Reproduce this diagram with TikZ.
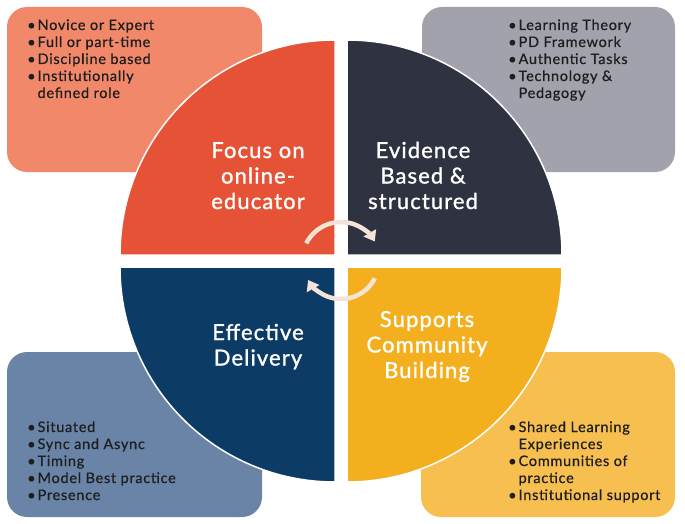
\documentclass[tikz,border=0pt]{standalone}
\usepackage{fontspec}
\setmainfont{Lato}
\newfontfamily\titlefont{Lato}[FakeBold=1.2,LetterSpace=5]
\newfontfamily\listfont{Lato}[FakeBold=0.6,LetterSpace=5]
\usetikzlibrary{arrows.meta}
\definecolor{boxTL}{HTML}{F2886A}
\definecolor{qTL}{HTML}{E65236}
\definecolor{boxTR}{HTML}{A1A2AB}
\definecolor{qTR}{HTML}{2F3240}
\definecolor{boxBL}{HTML}{6A84A8}
\definecolor{qBL}{HTML}{0C3C66}
\definecolor{boxBR}{HTML}{F7BF50}
\definecolor{qBR}{HTML}{F4AF1E}
\definecolor{arrowc}{HTML}{F6E3D8}
\definecolor{txt}{HTML}{1E1E1E}
\tikzset{
  infobox/.style={rounded corners=20pt},
  quarter/.style={draw=white,line width=1.5pt},
  title/.style={anchor=base,text=white,inner sep=0pt,font=\titlefont\fontsize{22}{25.5}\selectfont},
  bullets/.style={anchor=base west,text=txt,inner sep=0pt,font=\listfont\fontsize{14.5}{17}\selectfont},
  cyc/.style={draw=arrowc,line width=4.5pt,-{Triangle[width=14pt,length=10pt]}}
}
\newcommand{\blist}[1]{\begin{tabular}[t]{@{}l@{\hspace{2pt}}l@{}}#1\end{tabular}}
\newcommand{\ttl}[1]{\begin{tabular}[t]{@{}c@{}}#1\end{tabular}}
\begin{document}
\begin{tikzpicture}[x=1pt,y=-1pt]
\useasboundingbox (0,0) rectangle (685,524);
% background boxes
\fill[boxTL,infobox] (7,7) rectangle (262,172);
\fill[boxTR,infobox] (422,7) rectangle (675,172);
\fill[boxBL,infobox] (7,352) rectangle (262,517);
\fill[boxBR,infobox] (421,352) rectangle (675,517);
% quadrants
\path[quarter,fill=qTL] (335,255) -- ++(0,-215) arc[start angle=270,end angle=180,radius=215] -- cycle;
\path[quarter,fill=qTR] (347,255) -- ++(0,-215) arc[start angle=270,end angle=360,radius=215] -- cycle;
\path[quarter,fill=qBL] (335,267) -- ++(-215,0) arc[start angle=180,end angle=90,radius=215] -- cycle;
\path[quarter,fill=qBR] (347,267) -- ++(215,0) arc[start angle=0,end angle=90,radius=215] -- cycle;
% titles
\node[title] (tTL) at (258,158) {\ttl{Focus on\\online-\\educator}};
\node[title] (tTR) at (423,158) {\ttl{Evidence\\Based \&\\structured}};
\node[title] (tBL) at (258,340) {\ttl{Effective\\Delivery}};
\node[title] (tBR) at (427,327) {\ttl{Supports\\Community\\Building}};
% bullet lists
\node[bullets] (lTL) at (27,30) {\blist{\textbullet & Novice or Expert\\ \textbullet & Full or part-time\\ \textbullet & Discipline based\\ \textbullet & Institutionally\\ & defined role}};
\node[bullets] (lTR) at (508,30) {\blist{\textbullet & Learning Theory\\ \textbullet & PD Framework\\ \textbullet & Authentic Tasks\\ \textbullet & Technology \&\\ & Pedagogy}};
\node[bullets] (lBL) at (27,432) {\blist{\textbullet & Situated\\ \textbullet & Sync and Async\\ \textbullet & Timing\\ \textbullet & Model Best practice\\ \textbullet & Presence}};
\node[bullets] (lBR) at (508,432) {\blist{\textbullet & Shared Learning\\ & Experiences\\ \textbullet & Communities of\\ & practice\\ \textbullet & Institutional support}};
% cycle arrows
\coordinate (cc) at (341,261);
\draw[cyc] ([shift={(207:39)}]cc) arc[start angle=207,end angle=330,radius=39];
\draw[cyc] ([shift={(27:38)}]cc) arc[start angle=27,end angle=150,radius=38];
\end{tikzpicture}
\end{document}
